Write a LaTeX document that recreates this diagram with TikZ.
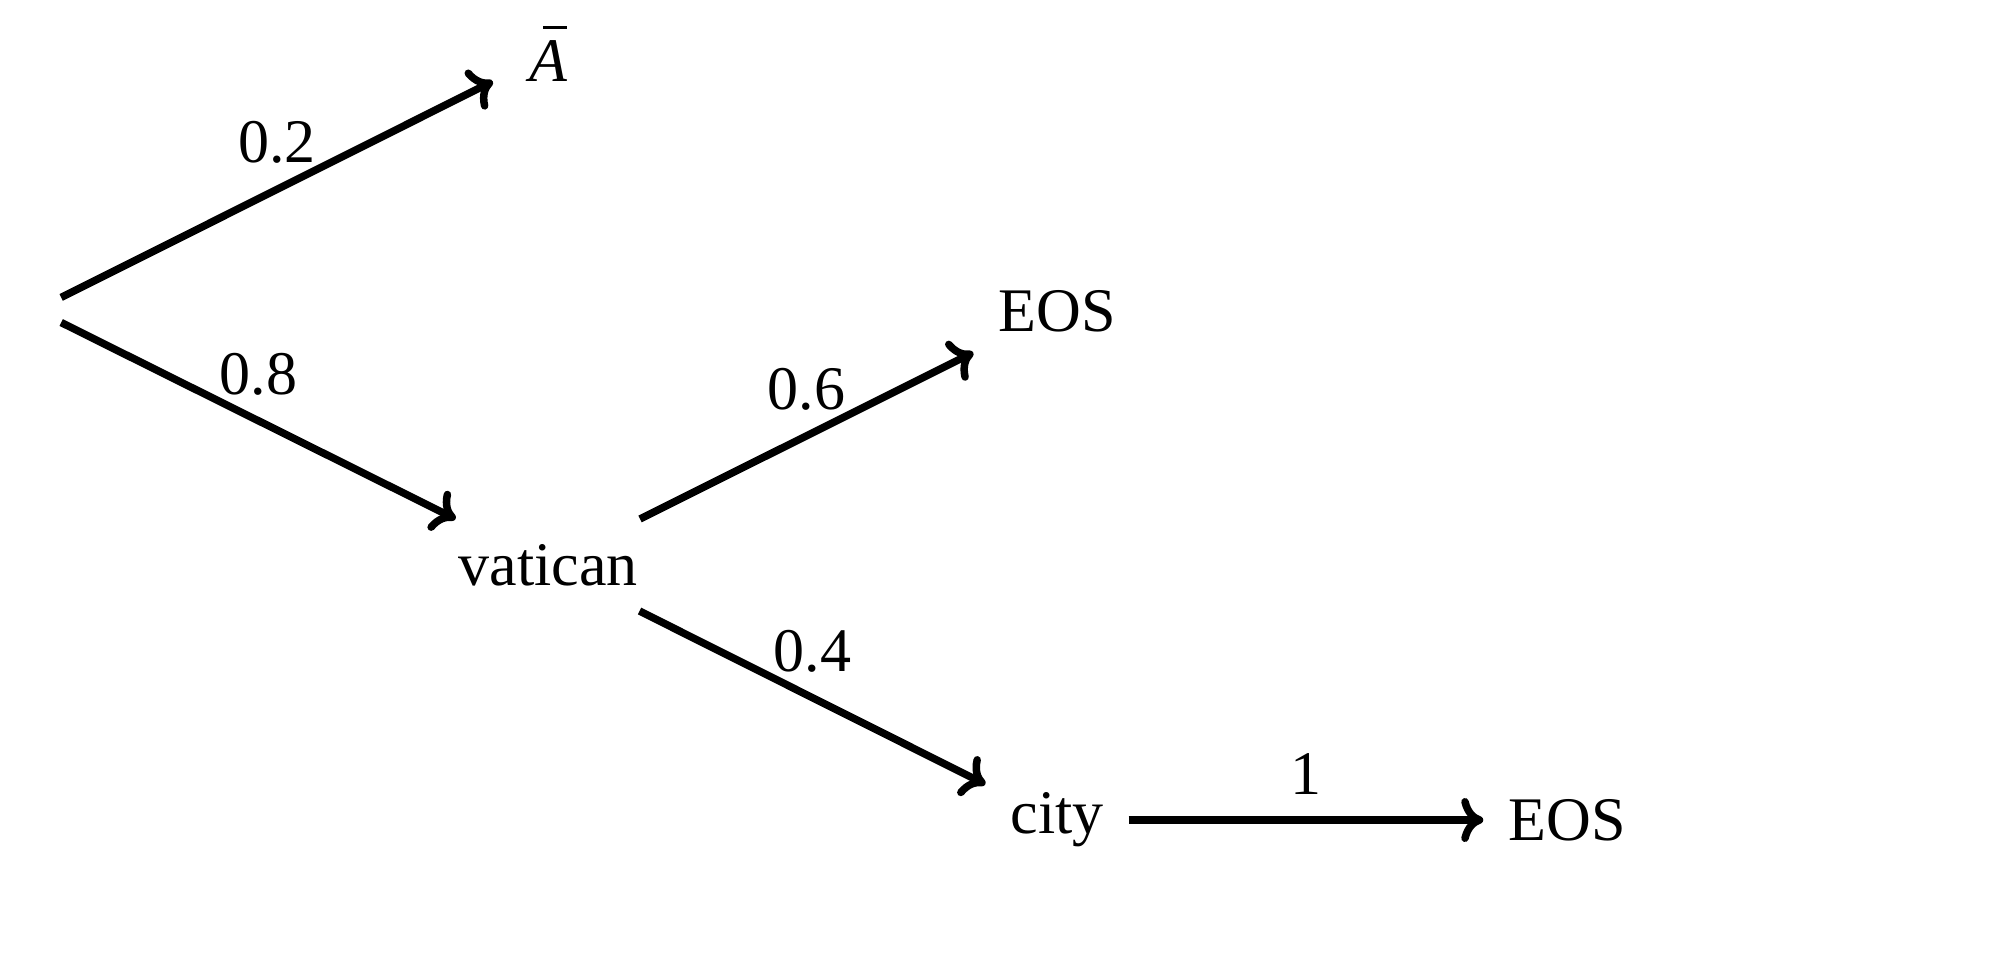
\documentclass[tikz,border=0pt]{standalone}
\usepackage{fontspec}
\setmainfont{Liberation Serif}
\usetikzlibrary{arrows.meta}
\begin{document}
\begin{tikzpicture}[x=1pt,y=-1pt,
  tnode/.style={inner sep=25pt, font=\fontsize{62}{74}\selectfont},
  edge/.style={line width=7.5pt, -{To[length=22pt,width=44pt]}},
  prob/.style={midway, above, inner sep=22pt, font=\fontsize{62}{74}\selectfont}]
\useasboundingbox (0,0) rectangle (1989,954);
\node[tnode] (root) at (36,310) {};
\node[tnode, inner xsep=37pt, anchor=base] (abar) at (549,81) {\textit{A}\llap{\rule[0.84em]{0.38em}{0.05em}\kern0.02em}};
\node[tnode] (vat) at (548,565) {vatican};
\node[tnode] (eos1) at (1057,311) {EOS};
\node[tnode] (city) at (1057,820) {city};
\node[tnode] (eos2) at (1567,820) {EOS};
\draw[edge] (root) -- (abar) node[prob] {0.2};
\draw[edge] (root) -- (vat) node[prob] {0.8};
\draw[edge] (vat) -- (eos1) node[prob] {0.6};
\draw[edge] (vat) -- (city) node[prob] {0.4};
\draw[edge] (city) -- (eos2) node[prob] {1};
\end{tikzpicture}
\end{document}
